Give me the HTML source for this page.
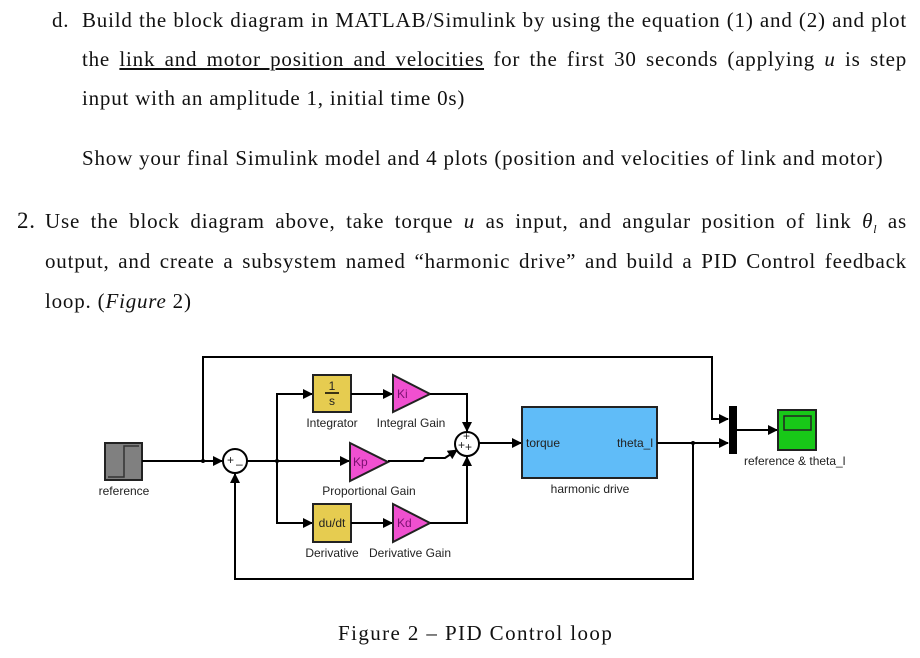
<!DOCTYPE html>
<html><head><meta charset="utf-8"><style>
html,body{margin:0;padding:0;background:#fff;width:920px;height:658px;overflow:hidden}
.t{position:absolute;font-family:"Liberation Serif",serif;font-size:21px;letter-spacing:0.8px;line-height:20px;color:#111;white-space:nowrap}
.j{text-align:justify;text-align-last:justify;white-space:normal}
.m{font-style:italic}
svg text{font-family:"Liberation Sans",sans-serif;font-size:12px;fill:#222}
</style></head><body>
<div class="t" style="left:52px;top:10px">d.</div>
<div class="t j" style="left:82px;top:10px;width:825px">Build the block diagram in MATLAB/Simulink by using the equation (1) and (2) and plot</div>
<div class="t j" style="left:82px;top:49px;width:825px">the <u>link and motor position and velocities</u> for the first 30 seconds (applying <span class="m">u</span> is step</div>
<div class="t" style="left:82px;top:88px">input with an amplitude 1, initial time 0s)</div>
<div class="t" style="left:82px;top:148px">Show your final Simulink model and 4 plots (position and velocities of link and motor)</div>
<div class="t" style="left:17px;top:211px;font-size:23px">2.</div>
<div class="t j" style="left:45px;top:211px;width:862px">Use the block diagram above, take torque <span class="m">u</span> as input, and angular position of link <span class="m">θ<sub style="font-size:12px">l</sub></span> as</div>
<div class="t j" style="left:45px;top:251px;width:862px">output, and create a subsystem named “harmonic drive” and build a PID Control feedback</div>
<div class="t" style="left:45px;top:291px">loop. (<i>Figure</i> 2)</div>
<div class="t" style="left:338px;top:623px;letter-spacing:1.4px">Figure 2 – PID Control loop</div>

<svg width="920" height="658" style="position:absolute;left:0;top:0" xmlns="http://www.w3.org/2000/svg">
<defs><marker id="a" markerWidth="10" markerHeight="10" refX="9" refY="5" orient="auto" markerUnits="userSpaceOnUse"><path d="M0,0 L10,5 L0,10 z" fill="#000"/></marker></defs>
<g stroke="#000" stroke-width="2" fill="none">
<rect x="105" y="443" width="37" height="37" fill="#808080" stroke="#222"/>
<path d="M108,477 H124 V446 H139" stroke="#333" stroke-width="1.5"/>
<line x1="142" y1="461" x2="222" y2="461" marker-end="url(#a)"/>
<path d="M203,461 V357 H712 V419 H728" marker-end="url(#a)"/>
<circle cx="235" cy="461" r="12" fill="#fff"/>
<line x1="247" y1="461" x2="349" y2="461" marker-end="url(#a)"/>
<path d="M277,461 V394 H312" marker-end="url(#a)"/>
<path d="M277,461 V523 H312" marker-end="url(#a)"/>
<rect x="313" y="375" width="38" height="37" fill="#e6cc50" stroke="#222"/>
<rect x="313" y="504" width="38" height="38" fill="#e6cc50" stroke="#222"/>
<line x1="351" y1="394" x2="392" y2="394" marker-end="url(#a)"/>
<line x1="351" y1="523" x2="392" y2="523" marker-end="url(#a)"/>
<path d="M393,375 L430,394 L393,412 z" fill="#f050d0" stroke="#222"/>
<path d="M393,504 L430,523 L393,542 z" fill="#f050d0" stroke="#222"/>
<path d="M350,443 L388,462 L350,481 z" fill="#f050d0" stroke="#222"/>
<path d="M430,394 H467 V431" marker-end="url(#a)"/>
<path d="M430,523 H467 V457" marker-end="url(#a)"/>
<path d="M388,461 H423 L425,458 H445 L457,450" marker-end="url(#a)"/>
<circle cx="467" cy="444" r="12" fill="#fff"/>
<line x1="479" y1="443" x2="521" y2="443" marker-end="url(#a)"/>
<rect x="522" y="407" width="135" height="71" fill="#60bcf8" stroke="#222"/>
<line x1="657" y1="443" x2="728" y2="443" marker-end="url(#a)"/>
<path d="M693,443 V579 H235 V474" marker-end="url(#a)"/>
<line x1="737" y1="430" x2="777" y2="430" marker-end="url(#a)"/>
<rect x="778" y="410" width="38" height="40" fill="#18c818" stroke="#222"/>
<rect x="784" y="416" width="27" height="14" fill="#18c818" stroke="#222" stroke-width="1.5"/>
</g>
<rect x="729" y="406" width="8" height="48" fill="#000"/>
<circle cx="203" cy="461" r="2" fill="#000"/><circle cx="277" cy="461" r="2" fill="#000"/><circle cx="693" cy="443" r="2" fill="#000"/>
<line x1="325" y1="393" x2="339" y2="393" stroke="#000" stroke-width="1.5"/>
<text x="332" y="390" text-anchor="middle" font-size="11">1</text>
<text x="332" y="405" text-anchor="middle" font-size="11">s</text>
<text x="332" y="527" text-anchor="middle">du/dt</text>
<text x="397" y="398" style="fill:#7a1070">Ki</text>
<text x="397" y="527" style="fill:#7a1070">Kd</text>
<text x="353" y="466" style="fill:#7a1070">Kp</text>
<text x="227" y="464" font-size="9">+</text><text x="236" y="468" font-size="10">–</text>
<text x="463" y="440" font-size="8">+</text><text x="458" y="449" font-size="8">+</text><text x="465" y="451" font-size="8">+</text>
<text x="124" y="495" text-anchor="middle">reference</text>
<text x="332" y="427" text-anchor="middle">Integrator</text>
<text x="411" y="427" text-anchor="middle">Integral Gain</text>
<text x="369" y="495" text-anchor="middle">Proportional Gain</text>
<text x="332" y="557" text-anchor="middle">Derivative</text>
<text x="410" y="557" text-anchor="middle">Derivative Gain</text>
<text x="526" y="447" font-size="10">torque</text>
<text x="653" y="447" font-size="10" text-anchor="end">theta_l</text>
<text x="590" y="493" text-anchor="middle">harmonic drive</text>
<text x="744" y="465">reference &amp; theta_l</text>
</svg>
</body></html>
